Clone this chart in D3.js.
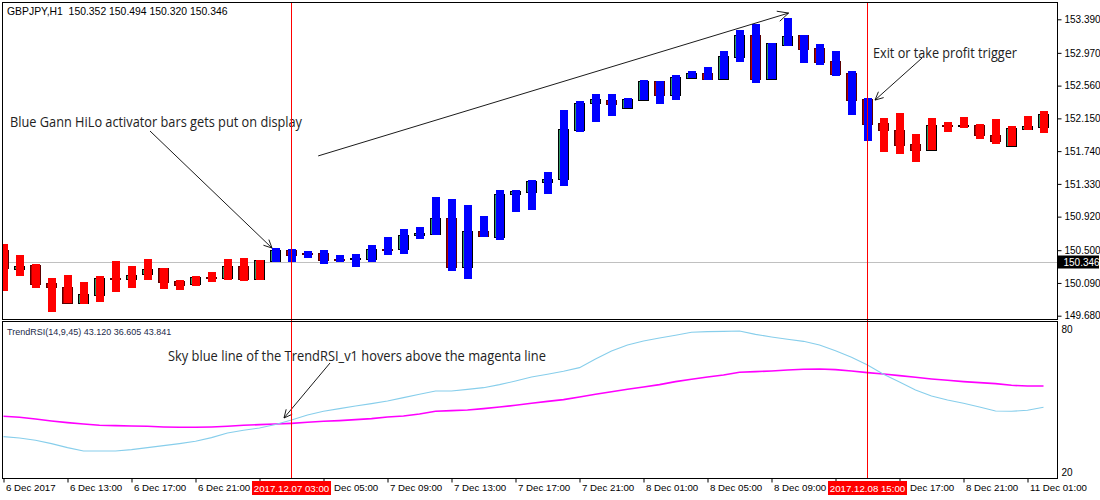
<!DOCTYPE html>
<html>
<head>
<meta charset="utf-8">
<script src="https://cdn.jsdelivr.net/npm/d3@7"></script>
<style>
  body { margin: 0; background: #fff; }
  svg { display: block; font-family: "Liberation Sans", Arial, sans-serif; }
  .axis text { font-size: 10px; fill: #000; }
  .axis line, .axis path { stroke: #000; }
  .time text { font-size: 9.7px; }
  .note { font-family: "Open Sans", sans-serif; font-size: 14px; fill: #222; }
</style>
</head>
<body>
<svg id="chart" width="1100" height="500"></svg>
<script>
// GBPJPY H1, 6 Dec 2017 09:00 .. 11 Dec 02:00 (66 bars)
var open = [150.502,150.264,150.314,150.089,150.039,149.839,149.939,150.152,150.139,150.202,
  150.277,150.114,150.076,150.164,150.152,150.302,150.139,150.364,150.502,150.471,
  150.465,150.385,150.393,150.389,150.521,150.515,150.690,150.702,150.903,150.289,
  150.740,150.665,151.203,151.228,151.353,151.391,152.004,152.342,152.379,152.279,
  152.379,152.617,152.442,152.655,152.717,152.642,152.918,153.193,152.642,153.068,
  153.193,153.030,152.868,152.717,152.392,152.092,152.004,151.829,151.754,152.066,
  152.054,152.066,151.941,151.804,152.016,152.041];
var high = [150.577,150.439,150.327,150.152,150.189,150.102,150.177,150.364,150.302,150.389,
  150.277,150.127,150.177,150.227,150.389,150.402,150.377,150.527,150.515,150.490,
  150.502,150.439,150.452,150.565,150.665,150.765,150.790,151.165,151.140,151.065,
  150.928,151.253,151.253,151.378,151.478,152.254,152.367,152.454,152.454,152.404,
  152.630,152.617,152.692,152.742,152.792,152.993,153.256,153.331,153.093,153.406,
  153.193,153.080,152.993,152.742,152.404,152.154,152.217,151.954,152.154,152.104,
  152.167,152.079,152.142,152.054,152.179,152.242];
var low = [149.989,150.177,150.026,149.726,149.839,149.826,149.851,149.976,150.026,150.127,
  150.014,150.001,150.051,150.102,150.127,150.114,150.127,150.352,150.352,150.402,
  150.327,150.352,150.289,150.352,150.439,150.452,150.640,150.690,150.239,150.139,
  150.665,150.627,150.978,151.003,151.203,151.303,151.979,152.104,152.179,152.279,
  152.379,152.329,152.379,152.655,152.630,152.642,152.855,152.592,152.642,153.055,
  152.842,152.817,152.680,152.192,151.866,151.729,151.704,151.603,151.754,151.979,
  152.029,151.891,151.829,151.804,152.004,151.966];
var close = [150.277,150.302,150.076,150.039,149.839,149.951,150.152,150.139,150.189,150.264,
  150.102,150.064,150.164,150.152,150.302,150.139,150.377,150.502,150.439,150.458,
  150.377,150.380,150.398,150.515,150.508,150.690,150.715,150.903,150.289,150.740,
  150.677,151.203,151.240,151.366,151.391,152.016,152.342,152.392,152.329,152.392,
  152.617,152.442,152.667,152.717,152.642,152.930,153.193,152.642,153.093,153.180,
  153.018,152.855,152.705,152.379,152.079,152.004,151.816,151.754,152.066,152.064,
  152.066,151.941,151.866,152.029,152.054,152.204];
// Gann HiLo activator state: 1 = blue (up), -1 = red (down)
var gann = [-1,-1,-1,-1,-1,-1,-1,-1,-1,-1,-1,-1,-1,-1,-1,-1,-1,
  1,1,1,1,1,1,1,1,1,1,1,1,1,1,1,1,1,1,1,1,1,1,1,1,1,1,1,1,1,1,1,1,1,1,1,1,1,1,
  -1,-1,-1,-1,-1,-1,-1,-1,-1,-1,-1,-1];

// TrendRSI(14,9,45) sub window
var rsiLine = [34.05,33.52,32.59,31.27,29.68,28.35,28.35,28.35,28.88,29.68,
  30.47,31.27,32.19,33.65,35.50,36.56,37.49,38.90,40.67,42.65,
  44.11,45.17,46.23,47.16,48.22,49.54,50.87,52.19,52.19,52.85,
  53.51,54.71,56.16,57.75,58.81,60.00,61.46,64.90,68.08,70.46,
  72.05,73.25,74.31,75.50,75.76,75.89,76.03,74.70,73.64,72.72,
  71.92,70.46,68.21,65.57,62.52,58.81,55.77,52.59,50.20,48.61,
  47.29,45.83,44.24,44.11,44.51,45.70];
var sigLine = [42.13,41.73,41.07,40.27,39.61,39.08,38.55,38.42,38.29,38.15,
  37.89,37.76,37.76,37.89,38.15,38.55,38.82,39.08,39.34,39.74,
  40.14,40.40,40.80,41.20,41.86,42.26,43.05,44.11,44.38,44.64,
  45.17,45.83,46.50,47.29,48.08,48.75,49.81,50.87,51.92,52.85,
  53.78,54.71,55.90,56.83,57.75,58.55,59.61,59.87,60.14,60.53,
  60.80,60.93,60.67,60.14,59.47,58.94,58.28,57.62,56.96,56.43,
  55.90,55.50,55.10,54.44,54.18,54.18];

var priceTicks = [153.390, 152.970, 152.560, 152.150, 151.740, 151.330, 150.920, 150.500, 150.090, 149.680];
var timeTicks = ["6 Dec 2017", "6 Dec 13:00", "6 Dec 17:00", "6 Dec 21:00", "7 Dec 01:00",
  "7 Dec 05:00", "7 Dec 09:00", "7 Dec 13:00", "7 Dec 17:00", "7 Dec 21:00", "8 Dec 01:00",
  "8 Dec 05:00", "8 Dec 09:00", "8 Dec 13:00", "8 Dec 17:00", "8 Dec 21:00", "11 Dec 01:00"];
var crossBars = [18, 54];
var crossLabels = ["2017.12.07 03:00", "2017.12.08 15:00"];
var lastPrice = 150.346;
var header = "GBPJPY,H1  150.352 150.494 150.320 150.346";
var indHeader = "TrendRSI(14,9,45) 43.120 36.605 43.841";
// trend line drawn on the chart (bar index, price)
var trendFrom = [19.7, 151.68], trendTo = [49.1, 153.468];

var svg = d3.select("#chart");
var L = 2.5, R = 1057.5, mainTop = 2.5, mainBot = 319.5, indTop = 321.5, indBot = 478.5;

var x = d3.scaleLinear().domain([0, 65]).range([3, 1043]);
var y = d3.scaleLinear().domain([149.680, 153.390]).range([315.7, 19.3]);
var yInd = d3.scaleLinear().domain([20, 80]).range([472, 321]);

svg.append("rect").attr("width", 1100).attr("height", 500).attr("fill", "#fff");

var defs = svg.append("defs");
defs.append("clipPath").attr("id", "clipMain").append("rect")
  .attr("x", L).attr("y", mainTop).attr("width", R - L).attr("height", mainBot - mainTop);
defs.append("clipPath").attr("id", "clipInd").append("rect")
  .attr("x", L).attr("y", indTop).attr("width", R - L).attr("height", indBot - indTop);

var main = svg.append("g").attr("clip-path", "url(#clipMain)");
var ind = svg.append("g").attr("clip-path", "url(#clipInd)");

// bid line
var py = Math.round(y(lastPrice)) + 0.5;
main.append("line").attr("x1", L).attr("x2", R).attr("y1", py).attr("y2", py)
  .attr("stroke", "#c0c0c0");

var bars = d3.range(open.length).map(function(i) {
  return { i: i, o: open[i], h: high[i], l: low[i], c: close[i], g: gann[i] };
});

// candle bodies
main.selectAll(".body")
  .data(bars)
  .enter()
  .append("rect")
  .attr("class", "body")
  .attr("shape-rendering", "crispEdges")
  .attr("x", d => x(d.i) - 4.5)
  .attr("width", 10)
  .attr("y", d => Math.round(y(Math.max(d.o, d.c))) + 0.5)
  .attr("height", d => Math.max(1, Math.round(y(Math.min(d.o, d.c))) - Math.round(y(Math.max(d.o, d.c)))))
  .attr("fill", d => d.c >= d.o ? "#339966" : "#b00000")
  .attr("stroke", d => d.c >= d.o ? "#000" : "#5a0000");

// Gann HiLo activator bars
main.selectAll(".hilo")
  .data(bars)
  .enter()
  .append("rect")
  .attr("class", "hilo")
  .attr("shape-rendering", "crispEdges")
  .attr("x", d => x(d.i) - 3)
  .attr("width", 8)
  .attr("y", d => Math.round(y(d.h)))
  .attr("height", d => Math.round(y(d.l)) - Math.round(y(d.h)))
  .attr("fill", d => d.g > 0 ? "#0000ff" : "#ff0000");

// line with open arrowhead
function arrow(g, x1, y1, x2, y2, len) {
  g.append("line").attr("x1", x1).attr("y1", y1).attr("x2", x2).attr("y2", y2)
    .attr("stroke", "#000").attr("stroke-width", 0.9);
  var a = Math.atan2(y2 - y1, x2 - x1);
  [0.45, -0.45].forEach(function(s) {
    g.append("line")
      .attr("x1", x2).attr("y1", y2)
      .attr("x2", x2 - len * Math.cos(a + s)).attr("y2", y2 - len * Math.sin(a + s))
      .attr("stroke", "#000").attr("stroke-width", 0.9);
  });
}
arrow(main, x(trendFrom[0]), y(trendFrom[1]), x(trendTo[0]), y(trendTo[1]), 12);

// annotations
main.append("text").attr("class", "note")
  .attr("x", 10).attr("y", 127)
  .attr("textLength", 292).attr("lengthAdjust", "spacingAndGlyphs")
  .text("Blue Gann HiLo activator bars gets put on display");
arrow(main, 150, 131, x(17) - 3, y(high[17]), 9);

main.append("text").attr("class", "note")
  .attr("x", 873).attr("y", 58)
  .attr("textLength", 144).attr("lengthAdjust", "spacingAndGlyphs")
  .text("Exit or take profit trigger");
arrow(main, 922, 58, x(54) + 8, y(high[54]) + 2, 9);

main.append("text")
  .attr("x", 7).attr("y", 15)
  .attr("font-size", "10.4px").attr("fill", "#000")
  .style("white-space", "pre")
  .text(header);

// indicator lines
var line = d3.line().x((d, i) => x(i) + 0.5).y(d => yInd(d));
ind.append("path").datum(sigLine)
  .attr("d", line).attr("fill", "none").attr("stroke", "#ff00ff").attr("stroke-width", 1.6);
ind.append("path").datum(rsiLine)
  .attr("d", line).attr("fill", "none").attr("stroke", "#87ceeb").attr("stroke-width", 1.1);

ind.append("text")
  .attr("x", 7).attr("y", 335)
  .attr("font-size", "9px").attr("fill", "#1b2a49")
  .text(indHeader);

ind.append("text").attr("class", "note")
  .attr("x", 168).attr("y", 361)
  .attr("textLength", 378).attr("lengthAdjust", "spacingAndGlyphs")
  .text("Sky blue line of the TrendRSI_v1 hovers above the magenta line");
arrow(ind, 330, 363, 284, 418, 9);

// crosshair lines
crossBars.forEach(function(b) {
  svg.append("line")
    .attr("x1", x(b) + 0.5).attr("x2", x(b) + 0.5)
    .attr("y1", mainTop).attr("y2", indBot)
    .attr("stroke", "#ff0000");
});

// panel frames
[[mainTop, mainBot], [indTop, indBot]].forEach(function(p) {
  svg.append("rect")
    .attr("x", L).attr("y", p[0]).attr("width", R - L).attr("height", p[1] - p[0])
    .attr("fill", "none").attr("stroke", "#000");
});

// price axis
var priceAxis = svg.append("g")
  .attr("class", "axis")
  .attr("transform", `translate(${R}, 0)`)
  .call(d3.axisRight(y).tickValues(priceTicks).tickSize(4).tickPadding(3)
    .tickFormat(d3.format(".3f")));
priceAxis.select(".domain").remove();

svg.append("rect")
  .attr("x", R + 0.5).attr("y", py - 7).attr("width", 41).attr("height", 13)
  .attr("fill", "#000");
svg.append("text")
  .attr("x", R + 6).attr("y", py + 3.5)
  .attr("font-size", "10px").attr("fill", "#fff")
  .text(lastPrice.toFixed(3));

// indicator axis
var indAxis = svg.append("g")
  .attr("class", "axis")
  .attr("transform", `translate(${R}, 0)`)
  .call(d3.axisRight(yInd).tickValues([80, 20]).tickSize(0).tickPadding(4));
indAxis.select(".domain").remove();
indAxis.selectAll(".tick text").attr("dy", d => d === 80 ? "1.1em" : "0.32em");

// time axis
var timeAxis = svg.append("g")
  .attr("class", "axis time")
  .attr("transform", `translate(0.5, ${indBot})`)
  .call(d3.axisBottom(x).tickValues(timeTicks.map((t, k) => k * 4)).tickSize(4).tickPadding(2)
    .tickFormat((d, k) => timeTicks[k]));
timeAxis.select(".domain").remove();
timeAxis.selectAll(".tick text").attr("text-anchor", "start").attr("dx", 2);

// crosshair time labels cover the regular labels underneath
var boxes = crossBars.map(b => [x(b) - 39, x(b) + 40]);
timeAxis.selectAll(".tick").each(function(d) {
  var t = d3.select(this).select("text");
  var x0 = x(d) + 2.5, x1 = x0 + t.node().getComputedTextLength();
  boxes.forEach(function(bx) {
    if (x0 >= bx[0] && x0 <= bx[1]) {
      if (x1 <= bx[1] + 2) t.remove();
      else t.text(t.text().replace(/^\S+\s/, "")).attr("dx", bx[1] - x(d) + 2);
    }
  });
});

crossBars.forEach(function(b, k) {
  svg.append("rect")
    .attr("x", boxes[k][0]).attr("y", indBot + 2.5).attr("width", boxes[k][1] - boxes[k][0]).attr("height", 14)
    .attr("fill", "#ff0000");
  svg.append("text")
    .attr("x", x(b) + 0.5).attr("y", indBot + 13)
    .attr("text-anchor", "middle")
    .attr("font-size", "9.7px").attr("fill", "#fff")
    .text(crossLabels[k]);
});
</script>
</body>
</html>
